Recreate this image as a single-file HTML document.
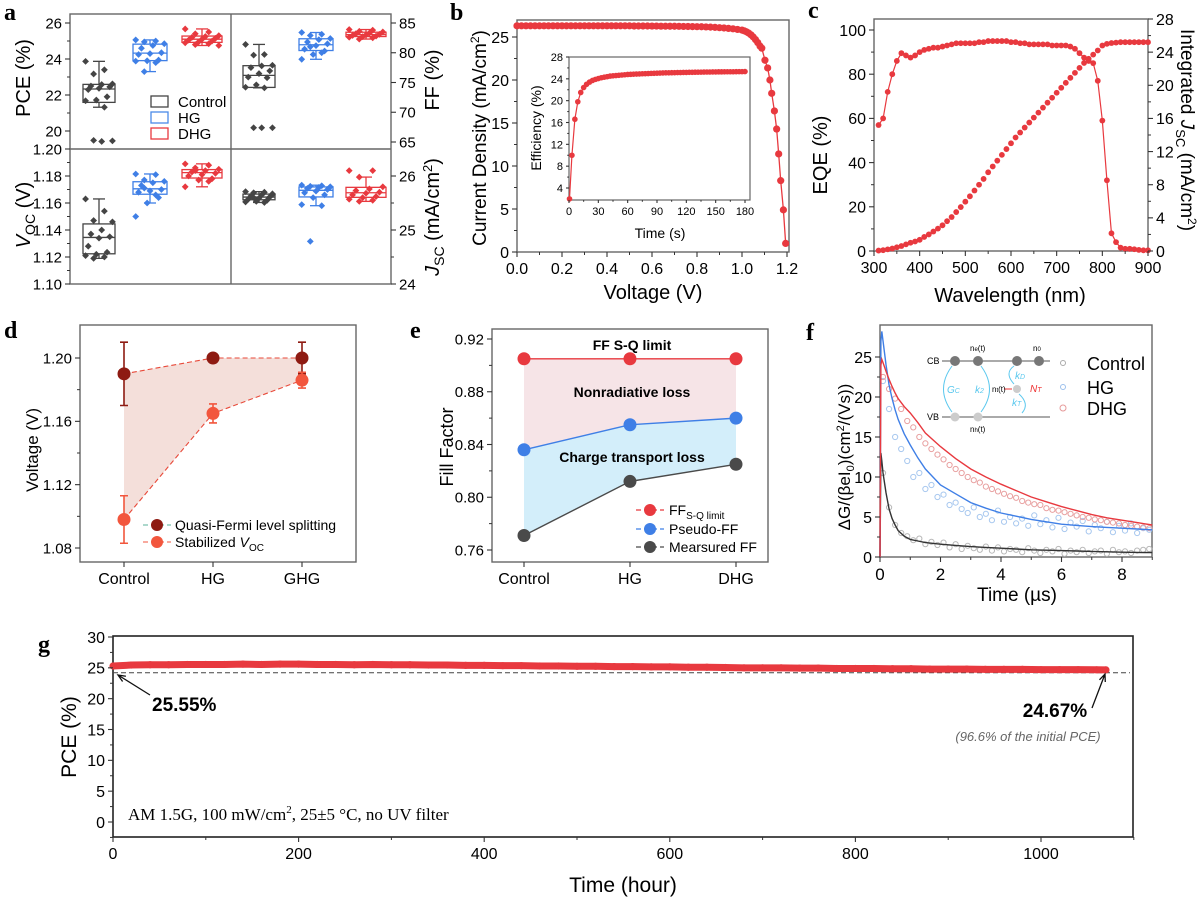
<!DOCTYPE html>
<html><head><meta charset="utf-8"><style>
html,body{margin:0;padding:0;background:#fff;}
svg{display:block;font-family:"Liberation Sans",Arial,sans-serif;}
.pl{font-family:"Liberation Serif",serif;font-weight:bold;font-size:24px;}
</style></head><body>
<svg id="fig" width="1200" height="902" viewBox="0 0 1200 902" xmlns="http://www.w3.org/2000/svg">
<rect x="0" y="0" width="1200" height="902" fill="#fff"/>
<text class="pl" x="4" y="20">a</text>
<text class="pl" x="450" y="20">b</text>
<text class="pl" x="808" y="18">c</text>
<text class="pl" x="4" y="338">d</text>
<text class="pl" x="410" y="338">e</text>
<text class="pl" x="806" y="340">f</text>
<text class="pl" x="38" y="652">g</text>

<g id="pa">
<rect x="70" y="14" width="321" height="270" fill="none" stroke="#666" stroke-width="1.4"/>
<line x1="231" y1="14" x2="231" y2="284" stroke="#666" stroke-width="1.4"/>
<line x1="70" y1="149" x2="391" y2="149" stroke="#666" stroke-width="1.4"/>
<text transform="translate(30,78) rotate(-90)" text-anchor="middle" font-size="20">PCE (%)</text>
<text transform="translate(30,215) rotate(-90)" text-anchor="middle" font-size="20"><tspan font-style="italic">V</tspan><tspan font-size="14" dy="5">OC</tspan><tspan dy="-5"> (V)</tspan></text>
<text transform="translate(439,80) rotate(-90)" text-anchor="middle" font-size="20">FF (%)</text>
<text transform="translate(439,217) rotate(-90)" text-anchor="middle" font-size="20"><tspan font-style="italic">J</tspan><tspan font-size="14" dy="5">SC</tspan><tspan dy="-5"> (mA/cm</tspan><tspan font-size="13" dy="-7">2</tspan><tspan dy="7">)</tspan></text>
<g>
<rect x="151" y="96" width="17" height="11" fill="none" stroke="#444" stroke-width="1.3"/>
<text x="178" y="107" font-size="15">Control</text>
<rect x="151" y="112" width="17" height="11" fill="none" stroke="#4a8ae8" stroke-width="1.3"/>
<text x="178" y="123" font-size="15">HG</text>
<rect x="151" y="128" width="17" height="11" fill="none" stroke="#e8393f" stroke-width="1.3"/>
<text x="178" y="139" font-size="15">DHG</text>
</g>
</g>

<g id="pb">
<rect x="517" y="20" width="272" height="232" fill="none" stroke="#666" stroke-width="1.4"/>
<text transform="translate(486,138) rotate(-90)" text-anchor="middle" font-size="19">Current Density (mA/cm<tspan font-size="12" dy="-7">2</tspan><tspan dy="7">)</tspan></text>
<text x="653" y="299" text-anchor="middle" font-size="20">Voltage (V)</text>
<rect x="569" y="57" width="181" height="143" fill="#fff" stroke="#666" stroke-width="1.2"/>
<text transform="translate(541,128) rotate(-90)" text-anchor="middle" font-size="14">Efficiency (%)</text>
<text x="660" y="238" text-anchor="middle" font-size="14">Time (s)</text>
</g>

<g id="pc">
<rect x="874" y="19" width="274" height="232" fill="none" stroke="#666" stroke-width="1.4"/>
<text transform="translate(827,155) rotate(-90)" text-anchor="middle" font-size="20">EQE (%)</text>
<text transform="translate(1181,130) rotate(90)" text-anchor="middle" font-size="19">Integrated <tspan font-style="italic">J</tspan><tspan font-size="13" dy="5">SC</tspan><tspan dy="-5"> (mA/cm</tspan><tspan font-size="12" dy="-7">2</tspan><tspan dy="7">)</tspan></text>
<text x="1010" y="302" text-anchor="middle" font-size="20">Wavelength (nm)</text>
</g>

<g id="pd">
<rect x="80" y="325" width="276" height="237" fill="none" stroke="#666" stroke-width="1.4"/>
<text transform="translate(38,450) rotate(-90)" text-anchor="middle" font-size="17">Voltage (V)</text>
</g>

<g id="pe">
<text transform="translate(453,447) rotate(-90)" text-anchor="middle" font-size="18">Fill Factor</text>
</g>

<g id="pf">
<rect x="880" y="325" width="272" height="232" fill="none" stroke="#666" stroke-width="1.4"/>
<text transform="translate(850,457) rotate(-90)" text-anchor="middle" font-size="17">ΔG/(βeI<tspan font-size="11" dy="4">0</tspan><tspan dy="-4">)(cm</tspan><tspan font-size="11" dy="-6">2</tspan><tspan dy="6">/(Vs))</tspan></text>
<text x="1017" y="601" text-anchor="middle" font-size="19">Time (µs)</text>
<g font-size="9">
<line x1="942" y1="361" x2="1050" y2="361" stroke="#555"/>
<line x1="942" y1="417" x2="1050" y2="417" stroke="#555"/>
<text x="927" y="364">CB</text>
<text x="927" y="420">VB</text>
<circle cx="955" cy="361" r="5" fill="#777"/>
<circle cx="978" cy="361" r="5" fill="#777"/>
<circle cx="1017" cy="361" r="5" fill="#777"/>
<circle cx="1039" cy="361" r="5" fill="#777"/>
<circle cx="955" cy="417" r="4.5" fill="#ccc"/>
<circle cx="978" cy="417" r="4.5" fill="#ccc"/>
<circle cx="1017" cy="389" r="4" fill="#ccc"/>
<line x1="1004" y1="389" x2="1012" y2="389" stroke="#e33"/>
<text x="970" y="351" font-size="8">n<tspan font-size="6">e</tspan>(t)</text>
<text x="1033" y="351" font-size="8">n<tspan font-size="6">0</tspan></text>
<text x="970" y="432" font-size="8">n<tspan font-size="6">h</tspan>(t)</text>
<text x="992" y="392" font-size="8">n<tspan font-size="6">t</tspan>(t)</text>
<text x="1030" y="392" font-size="10" fill="#e33" font-style="italic">N<tspan font-size="7">T</tspan></text>
<path d="M952 412 Q935 389 952 366" fill="none" stroke="#5bc8ee"/>
<path d="M981 366 Q998 389 981 412" fill="none" stroke="#5bc8ee"/>
<path d="M1014 384 Q1004 373 1014 366" fill="none" stroke="#5bc8ee"/>
<path d="M1019 394 Q1030 404 1022 413" fill="none" stroke="#5bc8ee"/>
<text x="947" y="393" font-size="10" fill="#5bc8ee" font-style="italic">G<tspan font-size="7">C</tspan></text>
<text x="975" y="393" font-size="10" fill="#5bc8ee" font-style="italic">k<tspan font-size="7">2</tspan></text>
<text x="1015" y="379" font-size="10" fill="#5bc8ee" font-style="italic">k<tspan font-size="7">D</tspan></text>
<text x="1012" y="406" font-size="10" fill="#5bc8ee" font-style="italic">k<tspan font-size="7">T</tspan></text>
</g>
<g>
<circle cx="1063" cy="363" r="2.5" fill="none" stroke="#aaa"/>
<text x="1087" y="370" font-size="18">Control</text>
<circle cx="1063" cy="387" r="2.5" fill="none" stroke="#9cc0ec"/>
<text x="1087" y="394" font-size="18">HG</text>
<circle cx="1063" cy="408" r="3" fill="none" stroke="#e69a9a"/>
<text x="1087" y="415" font-size="18">DHG</text>
</g>
</g>

<g id="pg">
<rect x="113" y="636" width="1020" height="201" fill="none" stroke="#222" stroke-width="1.6"/>
<text transform="translate(76,737) rotate(-90)" text-anchor="middle" font-size="21">PCE (%)</text>
<text x="623" y="892" text-anchor="middle" font-size="21">Time (hour)</text>
<text x="128" y="820" font-family="Liberation Serif,serif" font-size="17">AM 1.5G, 100 mW/cm<tspan font-size="11" dy="-7">2</tspan><tspan dy="7">, 25±5 °C, no UV filter</tspan></text>
</g>

<script>
const groups = ['Control','HG','DHG'];
const pceControl = [23.87,23.4,23.17,22.62,22.58,22.5,22.45,22.37,22.3,21.9,21.72,21.68,21.32,19.48,19.45,19.42];
const pceHG = [25.06,25.0,24.95,24.85,24.75,24.6,24.35,24.3,24.25,23.94,23.9,23.88,23.8,23.3];
const pceDHG = [25.67,25.5,25.4,25.3,25.25,25.2,25.15,25.1,25.05,25.0,24.95,24.9,24.85,24.8,24.75];
const ffControl = [81.4,79.7,79.6,77.9,77.8,77.5,76.95,76.5,75.9,75.8,74.6,74.2,74.1,67.4,67.4,67.4];
const ffHG = [83.4,83.1,82.9,82.4,82.2,81.8,81.5,81.2,80.6,80.3,79.7,78.9,80.0,81.0];
const ffDHG = [83.9,83.8,83.6,83.5,83.3,83.2,83.1,83.0,82.9,82.8,82.7,82.6,82.5,82.3];
const vocControl = [1.163,1.154,1.147,1.146,1.140,1.137,1.135,1.134,1.128,1.1235,1.122,1.121,1.120,1.119];
const vocHG = [1.1815,1.181,1.177,1.176,1.175,1.173,1.170,1.169,1.168,1.164,1.160,1.150,1.166,1.171];
const vocDHG = [1.189,1.188,1.186,1.185,1.184,1.183,1.182,1.181,1.180,1.178,1.177,1.172,1.176,1.184];
const jscControl = [25.71,25.70,25.69,25.67,25.65,25.63,25.61,25.59,25.57,25.55,25.53,25.52,25.51,25.60,25.66];
const jscHG = [25.83,25.82,25.81,25.80,25.79,25.77,25.75,25.72,25.69,25.65,25.60,25.47,25.45,24.79];
const jscDHG = [26.10,26.10,25.98,25.80,25.76,25.73,25.70,25.68,25.65,25.62,25.60,25.57,25.55,25.53];
const pceTicks = [20,22,24,26];
const vocTicks = [1.10,1.12,1.14,1.16,1.18,1.20];
const ffTicks = [65,70,75,80,85];
const jscTicks = [24,25,26];
const jvV = [0,0.02,0.04,0.06,0.08,0.1,0.12,0.14,0.16,0.18,0.2,0.22,0.24,0.26,0.28,0.3,0.32,0.34,0.36,0.38,0.4,0.42,0.44,0.46,0.48,0.5,0.52,0.54,0.56,0.58,0.6,0.62,0.64,0.66,0.68,0.7,0.72,0.74,0.76,0.78,0.8,0.82,0.84,0.86,0.88,0.9,0.92,0.94,0.96,0.98,1.0,1.01,1.02,1.03,1.04,1.05,1.06,1.07,1.08,1.088,1.102,1.114,1.124,1.132,1.144,1.154,1.163,1.172,1.184,1.194];
const jvJ = [26.3,26.3,26.3,26.3,26.3,26.3,26.3,26.3,26.3,26.3,26.3,26.3,26.3,26.3,26.3,26.3,26.3,26.3,26.3,26.3,26.3,26.3,26.3,26.3,26.3,26.3,26.28,26.28,26.28,26.28,26.27,26.27,26.26,26.26,26.25,26.25,26.24,26.23,26.22,26.21,26.2,26.19,26.17,26.15,26.12,26.08,26.05,26.0,25.95,25.88,25.8,25.72,25.6,25.45,25.25,25.0,24.7,24.35,23.95,23.7,22.3,21.4,20.0,18.45,16.4,14.3,11.4,8.3,4.9,1.0];
const effT = [0.5,3,6,9,12,15,18,21,24,27,30,33,36,39,42,45,48,51,54,57,60,63,66,69,72,75,78,81,84,87,90,93,96,99,102,105,108,111,114,117,120,123,126,129,132,135,138,141,144,147,150,153,156,159,162,165,168,171,174,177,180];
const effV = [2.0,10.0,16.6,19.8,21.5,22.4,23.0,23.4,23.7,23.9,24.05,24.2,24.3,24.4,24.5,24.55,24.6,24.65,24.7,24.75,24.8,24.82,24.85,24.88,24.9,24.93,24.95,24.97,25.0,25.02,25.04,25.06,25.08,25.1,25.1,25.12,25.13,25.15,25.15,25.17,25.18,25.2,25.2,25.21,25.22,25.23,25.24,25.25,25.25,25.26,25.27,25.28,25.28,25.29,25.3,25.3,25.3,25.31,25.32,25.32,25.33];
const wl = [310,320,330,340,350,360,370,380,390,400,410,420,430,440,450,460,470,480,490,500,510,520,530,540,550,560,570,580,590,600,610,620,630,640,650,660,670,680,690,700,710,720,730,740,750,760,770,780,790,800,810,820,830,840,850,860,870,880,890,900];
const eqe = [57,60,72,80,86,89.5,88.5,87.5,88.5,90,91,91.5,92,92,92.5,93,93.5,94,94,94,94,94,94.5,94.5,95,95,95,95,95,94.5,94.5,94,94,93.5,93.5,93.5,93.5,93.5,93,93,93,93,92.5,91.5,89.5,87.5,86,85,77,59,32,8,4,1.5,1,1,0.8,0.5,0.3,0.3];
const jInt = [0.05,0.1,0.2,0.3,0.45,0.6,0.8,1.0,1.15,1.35,1.7,2.0,2.35,2.7,3.1,3.6,4.1,4.7,5.3,5.95,6.6,7.3,8.0,8.7,9.5,10.2,10.9,11.6,12.3,13.0,13.7,14.3,14.9,15.5,16.1,16.7,17.3,17.9,18.5,19.1,19.7,20.3,20.9,21.5,22.1,22.7,23.2,23.7,24.2,24.8,25.0,25.1,25.15,25.2,25.2,25.2,25.2,25.2,25.2,25.2];
const dCats = ['Control','HG','GHG'];
const qfls = [1.19,1.20,1.20];
const qflsErr = [0.02,0.001,0.01];
const vocStab = [1.098,1.165,1.186];
const vocStabErr = [0.015,0.006,0.005];
const eCats = ['Control','HG','DHG'];
const ffSQ = [0.905,0.905,0.905];
const ffPseudo = [0.836,0.855,0.860];
const ffMeas = [0.771,0.812,0.825];
const fitT = [0,0.03,0.06,0.1,0.2,0.3,0.4,0.5,0.6,0.8,1,1.25,1.5,2,2.5,3,3.5,4,4.5,5,5.5,6,6.5,7,7.5,8,8.5,9];
const fitControl = [0,13,12,10.5,8,6,4.8,4.0,3.3,2.6,2.2,2.0,1.8,1.6,1.45,1.3,1.2,1.1,1.0,0.9,0.85,0.8,0.75,0.7,0.65,0.6,0.57,0.55];
const fitHG = [0,27,28.2,27,24,21.5,19.8,18.4,17.2,15.4,14,12.4,11,9,7.9,6.8,6.1,5.5,5.1,4.7,4.4,4.1,3.95,3.8,3.7,3.6,3.5,3.4];
const fitDHG = [0,24,24.7,24.3,23.2,22.2,21.3,20.5,19.8,18.8,18,16.8,15.5,13.8,12.3,11,10,9.1,8.3,7.5,6.9,6.3,5.8,5.3,4.9,4.6,4.3,4.0];
const scT = [0.1,0.3,0.5,0.7,0.9,1.1,1.3,1.5,1.7,1.9,2.1,2.3,2.5,2.7,2.9,3.1,3.3,3.5,3.7,3.9,4.1,4.3,4.5,4.7,4.9,5.1,5.3,5.5,5.7,5.9,6.1,6.3,6.5,6.7,6.9,7.1,7.3,7.5,7.7,7.9,8.1,8.3,8.5,8.7,8.9];
const scControl = [10.5,6.2,4.0,3.0,2.6,2.1,2.3,1.6,1.9,1.5,1.8,1.2,1.6,1.0,1.4,1.1,0.9,1.3,0.8,1.2,0.7,1.0,0.9,0.6,1.1,0.8,0.5,0.9,0.7,1.0,0.4,0.8,0.6,0.9,0.5,0.7,0.8,0.4,0.9,0.6,0.7,0.5,0.8,0.9,1.0];
const scHG = [22,18.5,15,13.5,12,10,10.5,8.5,9,7.5,7.8,6.5,6.8,6,5.5,6.2,5,5.4,4.6,5.8,4.4,5.0,4.2,4.8,3.9,5.2,4.1,4.6,3.7,4.9,3.5,4.3,3.8,4.5,3.2,4.0,3.6,4.4,3.1,3.9,3.3,4.2,3.0,3.6,3.4];
const scDHG = [22.5,21,19.8,18.5,17,16.2,15,14.2,13.5,12.8,12.2,11.5,11,10.5,10,9.6,9.3,8.8,8.5,8.2,7.9,7.6,7.4,7.0,6.8,6.6,6.5,6.1,5.9,5.8,5.6,5.4,5.2,5.0,4.9,4.7,4.6,4.4,4.3,4.2,4.0,3.9,3.8,3.7,3.6];
const gHours = [0,20,40,60,80,100,120,140,160,180,200,220,240,260,280,300,320,340,360,380,400,420,440,460,480,500,520,540,560,580,600,620,640,660,680,700,720,740,760,780,800,820,840,860,880,900,920,940,960,980,1000,1020,1040,1060,1070];
const gPCE = [25.3,25.45,25.5,25.5,25.55,25.55,25.55,25.6,25.55,25.6,25.6,25.55,25.55,25.5,25.55,25.5,25.5,25.45,25.45,25.4,25.4,25.35,25.35,25.3,25.3,25.25,25.25,25.2,25.2,25.15,25.15,25.1,25.1,25.05,25.0,25.0,25.0,24.95,24.95,24.9,24.9,24.9,24.85,24.85,24.8,24.8,24.8,24.75,24.75,24.75,24.7,24.7,24.7,24.68,24.67];
const gRef = 24.2;

const NS='http://www.w3.org/2000/svg';
const svg=document.getElementById('fig');
function mk(tag,parent){const e=document.createElementNS(NS,tag);parent.appendChild(e);return e;}
function at(e,o){for(const k in o)e.setAttribute(k,o[k]);return e;}
function lin(d0,d1,r0,r1){return v=>r0+(v-d0)*(r1-r0)/(d1-d0);}
function grp(parent,name){const g=mk('g',parent);
return g;}
function span(t,txt,o){const s=at(mk('tspan',t),o||{});s.textContent=txt;return s;}
function yTicks(parent,vals,map,x,dir,len,fs,fmt,minor){
  const g=grp(parent,'y-axis-ticks');
  vals.forEach(v=>{const y=map(v);
    const l=at(mk('line',g),{x1:x,y1:y,x2:x+dir*len,y2:y,stroke:'#333','stroke-width':1.1});
    
    
    if(fs){const t=at(mk('text',g),{x:x+dir*(len+3),y:y+fs*0.36,'font-size':fs,'text-anchor':dir<0?'end':'start'});t.textContent=fmt(v);
    
    }
  });
  (minor||[]).forEach(v=>{const y=map(v);
    const l=at(mk('line',g),{x1:x,y1:y,x2:x+dir*len*0.6,y2:y,stroke:'#333','stroke-width':1});
    
    });
}
function xTicks(parent,vals,map,y,len,fs,fmt,labels,minor){
  const g=grp(parent,'x-axis-ticks');
  vals.forEach((v,i)=>{const x=map(v);
    const l=at(mk('line',g),{x1:x,y1:y,x2:x,y2:y+len,stroke:'#333','stroke-width':1.1});
    
    
    if(fs){const t=at(mk('text',g),{x:x,y:y+len+fs+1,'font-size':fs,'text-anchor':'middle'});t.textContent=labels?labels[i]:fmt(v);
    
    }
  });
  (minor||[]).forEach(v=>{const x=map(v);
    const l=at(mk('line',g),{x1:x,y1:y,x2:x,y2:y+len*0.6,stroke:'#333','stroke-width':1});
    
    });
}
function polyline(parent,xs,ys,fx,fy,color,w,name,dash){
  const p=at(mk('polyline',parent),{points:xs.map((x,i)=>fx(x)+','+fy(ys[i])).join(' '),fill:'none',stroke:color,'stroke-width':w});
  if(dash)p.setAttribute('stroke-dasharray',dash);
  
  
  return p;
}
function dots(parent,xs,ys,fx,fy,color,r,name){
  xs.forEach((x,i)=>{const c=at(mk('circle',parent),{cx:fx(x),cy:fy(ys[i]),r:r,fill:color});
    
    });
}
function q(arr,p){const s=[...arr].sort((a,b)=>a-b);const i=(s.length-1)*p;const lo=Math.floor(i),hi=Math.ceil(i);return s[lo]+(s[hi]-s[lo])*(i-lo);}

// PANEL A
const pa=document.getElementById('pa');
const pceY=lin(26,20,23,131), vocY=lin(1.20,1.10,149,284), ffY=lin(85,65,23,142), jscY=lin(26,24,176,284);
const colors=['#444','#3f7fe6','#e8393f'];
const leftX=[99,150,202], rightX=[259,316,366], bw=[32,34,40];
function boxplot(data,cx,w,map,color,name){
  const g=grp(pa,name);
  const q1=q(data,0.25),q3=q(data,0.75),md=q(data,0.5),iqr=q3-q1;
  const inl=data.filter(v=>v>=q1-1.5*iqr&&v<=q3+1.5*iqr);
  const lo=Math.min(...inl),hi=Math.max(...inl);
  const b=at(mk('rect',g),{x:cx-w/2,y:map(q3),width:w,height:Math.max(1,map(q1)-map(q3)),fill:'none',stroke:color,'stroke-width':1.3});
  
  
  const m=at(mk('line',g),{x1:cx-w/2,x2:cx+w/2,y1:map(md),y2:map(md),stroke:color,'stroke-width':1.3});
  
  
  [[hi,q3],[lo,q1]].forEach(([a,bq])=>{
    const wl=at(mk('line',g),{x1:cx,x2:cx,y1:map(a),y2:map(bq),stroke:color,'stroke-width':1.3});
    
    
    const cap=at(mk('line',g),{x1:cx-6,x2:cx+6,y1:map(a),y2:map(a),stroke:color,'stroke-width':1.3});
    
    
  });
  data.forEach((v,i)=>{const off=(((i*7)%11)-5)/5*w*0.42;
    const d=at(mk('path',g),{d:`M${cx+off} ${map(v)-3.4}l3.4 3.4l-3.4 3.4l-3.4 -3.4z`,fill:color});
    
    });
}
[pceControl,pceHG,pceDHG].forEach((d,i)=>boxplot(d,leftX[i],bw[i],pceY,colors[i],'pce-box-'+groups[i].toLowerCase()));
[ffControl,ffHG,ffDHG].forEach((d,i)=>boxplot(d,rightX[i],bw[i],ffY,colors[i],'ff-box-'+groups[i].toLowerCase()));
[vocControl,vocHG,vocDHG].forEach((d,i)=>boxplot(d,leftX[i],bw[i],vocY,colors[i],'voc-box-'+groups[i].toLowerCase()));
[jscControl,jscHG,jscDHG].forEach((d,i)=>boxplot(d,rightX[i],bw[i],jscY,colors[i],'jsc-box-'+groups[i].toLowerCase()));
yTicks(pa,pceTicks,pceY,70,-1,5,15,v=>v,[21,23,25]);
yTicks(pa,vocTicks,vocY,70,-1,5,15,v=>v.toFixed(2),[1.11,1.13,1.15,1.17,1.19]);
yTicks(pa,ffTicks,ffY,391,1,5,15,v=>v,[]);
yTicks(pa,jscTicks,jscY,391,1,5,15,v=>v,[24.5,25.5]);

// PANEL B
const pb=document.getElementById('pb');
const bX=lin(0,1.2,517,787), bY=lin(0,25,252,37);
const jvG=grp(pb,'jv-curve-series');
polyline(jvG,jvV,jvJ,bX,bY,'#e8393f',1.3,'jv-line');
dots(jvG,jvV,jvJ,bX,bY,'#e8393f',3.6,'jv-point');
xTicks(pb,[0,0.2,0.4,0.6,0.8,1.0,1.2],bX,252,5,16,v=>v.toFixed(1),null,[0.1,0.3,0.5,0.7,0.9,1.1]);
yTicks(pb,[0,5,10,15,20,25],bY,517,-1,5,16,v=>v,[2.5,7.5,12.5,17.5,22.5]);
const iX=lin(0,180,569,745), iY=lin(4,28,188,57);
const inG=grp(pb,'inset-efficiency-series');
polyline(inG,effT,effV,iX,iY,'#e8393f',1.2,'efficiency-line');
dots(inG,effT,effV,iX,iY,'#e8393f',2.8,'efficiency-point');
xTicks(pb,[0,30,60,90,120,150,180],iX,200,3,11,v=>v,null,[15,45,75,105,135,165]);
yTicks(pb,[4,8,12,16,20,24,28],iY,569,-1,3,11,v=>v,[6,10,14,18,22,26]);

// PANEL C
const pc=document.getElementById('pc');
const cX=lin(300,900,874,1148), cYL=lin(0,100,251,30), cYR=lin(0,28,251,19);
const eqG=grp(pc,'eqe-series');
polyline(eqG,wl,eqe,cX,cYL,'#e8393f',1.2,'eqe-line');
dots(eqG,wl,eqe,cX,cYL,'#e8393f',2.9,'eqe-point');
const jG=grp(pc,'integrated-jsc-series');
dots(jG,wl,jInt,cX,cYR,'#e8393f',2.9,'integrated-jsc-point');
xTicks(pc,[300,400,500,600,700,800,900],cX,251,5,16,v=>v,null,[350,450,550,650,750,850]);
yTicks(pc,[0,20,40,60,80,100],cYL,874,-1,5,16,v=>v,[10,30,50,70,90]);
yTicks(pc,[0,4,8,12,16,20,24,28],cYR,1148,1,5,16,v=>v,[2,6,10,14,18,22,26]);

// PANEL D
const pd=document.getElementById('pd');
const dX=[124,213,302], dY=lin(1.20,1.08,358,548);
const shade=at(mk('polygon',pd),{points:dX.map((x,i)=>x+','+dY(qfls[i])).concat(dX.map((x,i)=>x+','+dY(vocStab[i])).reverse()).join(' '),fill:'#f3dcd6',opacity:0.9});


function errSeries(vals,errs,color,name){
  const g=grp(pd,name);
  const xi=[0,1,2];
  polyline(g,xi,vals,i=>dX[i],dY,'#e84a3a',1.1,'dashed-connector','5,3');
  vals.forEach((v,i)=>{
    const e=at(mk('path',g),{d:`M${dX[i]} ${dY(v+errs[i])}V${dY(v-errs[i])}M${dX[i]-4} ${dY(v+errs[i])}h8M${dX[i]-4} ${dY(v-errs[i])}h8`,stroke:color,'stroke-width':1.6,fill:'none'});
    
    
    const c=at(mk('circle',g),{cx:dX[i],cy:dY(v),r:6.5,fill:color});
    
    
  });
}
errSeries(qfls,qflsErr,'#8e1b12','qfls-series');
errSeries(vocStab,vocStabErr,'#f2563d','stabilized-voc-series');
xTicks(pd,[0,1,2],i=>dX[i],562,5,16,null,dCats);
yTicks(pd,[1.08,1.12,1.16,1.20],dY,80,-1,5,15,v=>v.toFixed(2),[1.10,1.14,1.18]);
const dl=grp(pd,'panel-d-legend');
[[525,'#8e1b12','#5ab09a'],[542,'#f2563d','#f2563d']].forEach(([y,c,lc],i)=>{
  const l=at(mk('line',dl),{x1:143,x2:171,y1:y,y2:y,stroke:lc,'stroke-dasharray':'5,3','stroke-width':1.1});
  
  
  const c2=at(mk('circle',dl),{cx:157,cy:y,r:6,fill:c});
  
  
  const tt=at(mk('text',dl),{x:175,y:y+5,'font-size':14});
  if(i===0){tt.textContent='Quasi-Fermi level splitting';}
  else{span(tt,'Stabilized ');span(tt,'V',{'font-style':'italic'});span(tt,'OC',{'font-size':10,dy:4});}
  
  
});

// PANEL E
const pe=document.getElementById('pe');
const eX=[524,630,736], eY=lin(0.92,0.76,339,550);
const a1=at(mk('polygon',pe),{points:eX.map((x,i)=>x+','+eY(ffSQ[i])).concat(eX.map((x,i)=>x+','+eY(ffPseudo[i])).reverse()).join(' '),fill:'#f6e4e7'});


const a2=at(mk('polygon',pe),{points:eX.map((x,i)=>x+','+eY(ffPseudo[i])).concat(eX.map((x,i)=>x+','+eY(ffMeas[i])).reverse()).join(' '),fill:'#d3eefa'});


const fr=at(mk('rect',pe),{x:492,y:329,width:276,height:233,fill:'none',stroke:'#666','stroke-width':1.4});


[[ffSQ,'#e8393f','ff-sq-limit-series'],[ffPseudo,'#3f7fe6','pseudo-ff-series'],[ffMeas,'#4a4a4a','measured-ff-series']].forEach(([vals,c,n])=>{
  const g=grp(pe,n);
  polyline(g,[0,1,2],vals,i=>eX[i],eY,c,1.4,'series-line');
  dots(g,[0,1,2],vals,i=>eX[i],eY,c,6.5,'series-point');
});
xTicks(pe,[0,1,2],i=>eX[i],562,5,16,null,eCats);
yTicks(pe,[0.76,0.80,0.84,0.88,0.92],eY,492,-1,5,15,v=>v.toFixed(2),[0.78,0.82,0.86,0.90]);
[['FF S-Q limit',632,350],['Nonradiative loss',632,397],['Charge transport loss',632,462]].forEach(([t,x,y],i)=>{
  const tt=at(mk('text',pe),{x:x,y:y,'font-size':14,'font-weight':'bold','text-anchor':'middle'});
  tt.textContent=t;
  
  
});
const el=grp(pe,'panel-e-legend');
[[510,'#e8393f'],[529,'#3f7fe6'],[547,'#4a4a4a']].forEach(([y,c],i)=>{
  const l=at(mk('line',el),{x1:636,x2:664,y1:y,y2:y,stroke:c,'stroke-dasharray':'5,3','stroke-width':1.2});
  
  
  const c2=at(mk('circle',el),{cx:650,cy:y,r:6,fill:c});
  
  
  const tt=at(mk('text',el),{x:669,y:y+5,'font-size':14});
  if(i===0){span(tt,'FF');span(tt,'S-Q limit',{'font-size':10,dy:4});}
  else{tt.textContent=i===1?'Pseudo-FF':'Mearsured FF';}
  
  
});

// PANEL F
const pf=document.getElementById('pf');
const fX=lin(0,8,880,1122), fY=lin(0,25,557,357);
[[scControl,'#b8b8b8','control-scatter'],[scHG,'#a8c8ef','hg-scatter'],[scDHG,'#e8a0a0','dhg-scatter']].forEach(([vals,c,n])=>{
  const g=grp(pf,n);
  scT.forEach((t,i)=>{const cc=at(mk('circle',g),{cx:fX(t),cy:fY(vals[i]),r:2.6,fill:'none',stroke:c,'stroke-width':1});
    
    });
});
polyline(pf,fitT,fitControl,fX,fY,'#333',1.4,'control-fit-line');
polyline(pf,fitT,fitHG,fX,fY,'#3f7fe6',1.4,'hg-fit-line');
polyline(pf,fitT,fitDHG,fX,fY,'#e8393f',1.4,'dhg-fit-line');
xTicks(pf,[0,2,4,6,8],fX,557,5,17,v=>v,null,[1,3,5,7,9]);
yTicks(pf,[0,5,10,15,20,25],fY,880,-1,5,16,v=>v,[2.5,7.5,12.5,17.5,22.5]);

// PANEL G
const pg=document.getElementById('pg');
const gX=lin(0,1000,113,1041), gY=lin(0,30,822,637);
const ref=at(mk('line',pg),{x1:gX(0),x2:1130,y1:gY(gRef),y2:gY(gRef),stroke:'#444','stroke-dasharray':'5,3','stroke-width':1});


const gs=grp(pg,'stability-pce-series');
polyline(gs,gHours,gPCE,gX,gY,'#e8393f',7,'stability-band');
dots(gs,gHours,gPCE,gX,gY,'#e8393f',3.6,'stability-point');
xTicks(pg,[0,200,400,600,800,1000],gX,837,5,16,v=>v,null,[100,300,500,700,900,1100]);
yTicks(pg,[0,5,10,15,20,25,30],gY,113,-1,5,16,v=>v,[-2.5,2.5,7.5,12.5,17.5,22.5,27.5]);
function arrow(x1,y1,x2,y2,name){
  const a=Math.atan2(y2-y1,x2-x1),h=8;
  const p=at(mk('path',pg),{d:`M${x1} ${y1}L${x2} ${y2}M${x2-h*Math.cos(a-0.4)} ${y2-h*Math.sin(a-0.4)}L${x2} ${y2}L${x2-h*Math.cos(a+0.4)} ${y2-h*Math.sin(a+0.4)}`,stroke:'#111','stroke-width':1.3,fill:'none'});
  
  
}
arrow(150,695,118,675,'initial-pce-arrow');
arrow(1092,708,1105,674,'final-pce-arrow');
const t1=at(mk('text',pg),{x:152,y:711,'font-size':19,'font-weight':'bold'});
t1.textContent='25.55%';


const t2=at(mk('text',pg),{x:1055,y:717,'font-size':19,'font-weight':'bold','text-anchor':'middle'});
t2.textContent='24.67%';


const t3=at(mk('text',pg),{x:1028,y:741,'font-size':13,'font-style':'italic',fill:'#666','text-anchor':'middle'});
t3.textContent='(96.6% of the initial PCE)';


</script>
</svg>
</body></html>
